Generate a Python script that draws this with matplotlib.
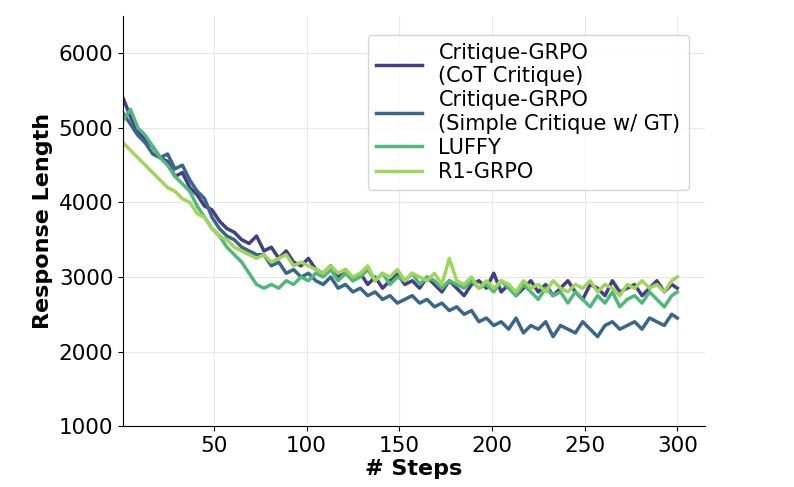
import matplotlib
matplotlib.use("Agg")
import matplotlib.pyplot as plt

steps = list(range(1, 298, 4)) + [300]

cot_critique = [
    5400, 5150, 4950, 4850, 4750, 4600, 4550, 4350, 4400, 4200,
    4100, 3950, 3900, 3750, 3650, 3600, 3500, 3450, 3550, 3350,
    3400, 3250, 3350, 3200, 3150, 3250, 3100, 3050, 3150, 3000,
    3100, 2950, 3050, 2900, 3000, 2850, 2950, 3050, 2900, 2950,
    2850, 3000, 2900, 2800, 2950, 2850, 2750, 2900, 2950, 2850,
    3050, 2800, 2900, 2750, 2850, 2950, 2800, 2900, 2750, 2850,
    2950, 2800, 2700, 2900, 2850, 2750, 2950, 2800, 2850, 2900,
    2750, 2850, 2950, 2800, 2900, 2850]
simple_gt = [
    5200, 5050, 4900, 4800, 4650, 4600, 4650, 4450, 4500, 4300,
    4150, 4050, 3800, 3650, 3550, 3500, 3400, 3350, 3300, 3300,
    3150, 3200, 3050, 3100, 3000, 3050, 2950, 2900, 3000, 2850,
    2900, 2800, 2850, 2750, 2800, 2700, 2750, 2650, 2700, 2750,
    2650, 2700, 2600, 2650, 2550, 2600, 2500, 2550, 2400, 2450,
    2350, 2400, 2300, 2450, 2250, 2350, 2300, 2400, 2200, 2350,
    2300, 2250, 2400, 2300, 2200, 2350, 2400, 2300, 2350, 2400,
    2300, 2450, 2400, 2350, 2500, 2450]
luffy = [
    5100, 5250, 5000, 4900, 4750, 4600, 4500, 4350, 4250, 4150,
    3950, 3800, 3650, 3550, 3400, 3300, 3200, 3050, 2900, 2850,
    2900, 2850, 2950, 2900, 3000, 2950, 3050, 3000, 3100, 2950,
    3050, 2950, 3000, 3100, 2950, 3050, 2900, 3000, 2950, 3050,
    2900, 3000, 2950, 2850, 2950, 2900, 2850, 2950, 2850, 2900,
    2800, 2950, 2850, 2750, 2900, 2800, 2700, 2850, 2750, 2800,
    2650, 2800, 2700, 2600, 2750, 2650, 2800, 2600, 2700, 2750,
    2650, 2800, 2700, 2600, 2750, 2800]
r1_grpo = [
    4800, 4700, 4600, 4500, 4400, 4300, 4200, 4150, 4050, 4000,
    3850, 3800, 3650, 3550, 3500, 3400, 3350, 3300, 3250, 3300,
    3200, 3250, 3300, 3150, 3200, 3150, 3100, 3050, 3150, 3050,
    3100, 3000, 3050, 3150, 2950, 3050, 3000, 3100, 2950, 3050,
    3000, 2950, 3050, 2900, 3250, 2950, 2900, 3000, 2850, 2950,
    2850, 2950, 2900, 2800, 2950, 2850, 2900, 2800, 2950, 2850,
    2800, 2900, 2850, 2950, 2800, 2900, 2850, 2750, 2900, 2850,
    2950, 2850, 2900, 2800, 2950, 3000]

series = [
    ("Critique-GRPO\n(CoT Critique)", cot_critique, "#433e85"),
    ("Critique-GRPO\n(Simple Critique w/ GT)", simple_gt, "#38668c"),
    ("LUFFY", luffy, "#52b77b"),
    ("R1-GRPO", r1_grpo, "#9fd55a"),
]

fig = plt.figure(figsize=(7.94, 4.87), dpi=100)
ax = fig.add_axes([0.155, 0.125, 0.733, 0.842])
for label, vals, color in series:
    ax.plot(steps, vals, color=color, linewidth=2.5, label=label)

ax.set_xlim(1, 315)
ax.set_ylim(1000, 6500)
ax.set_xticks([50, 100, 150, 200, 250, 300])
ax.set_yticks([1000, 2000, 3000, 4000, 5000, 6000])
ax.tick_params(labelsize=15.5)
ax.set_xlabel("# Steps", fontsize=16, fontweight="bold", labelpad=2)
ax.set_ylabel("Response Length", fontsize=16, fontweight="bold")
ax.grid(True, color="#e8e8e8", linewidth=0.8)
ax.spines["top"].set_visible(False)
ax.spines["right"].set_visible(False)
ax.legend(loc="upper right", bbox_to_anchor=(0.99, 0.98), fontsize=15,
          handlelength=2.2, labelspacing=0.2)

fig.savefig("out.png", dpi=100)
